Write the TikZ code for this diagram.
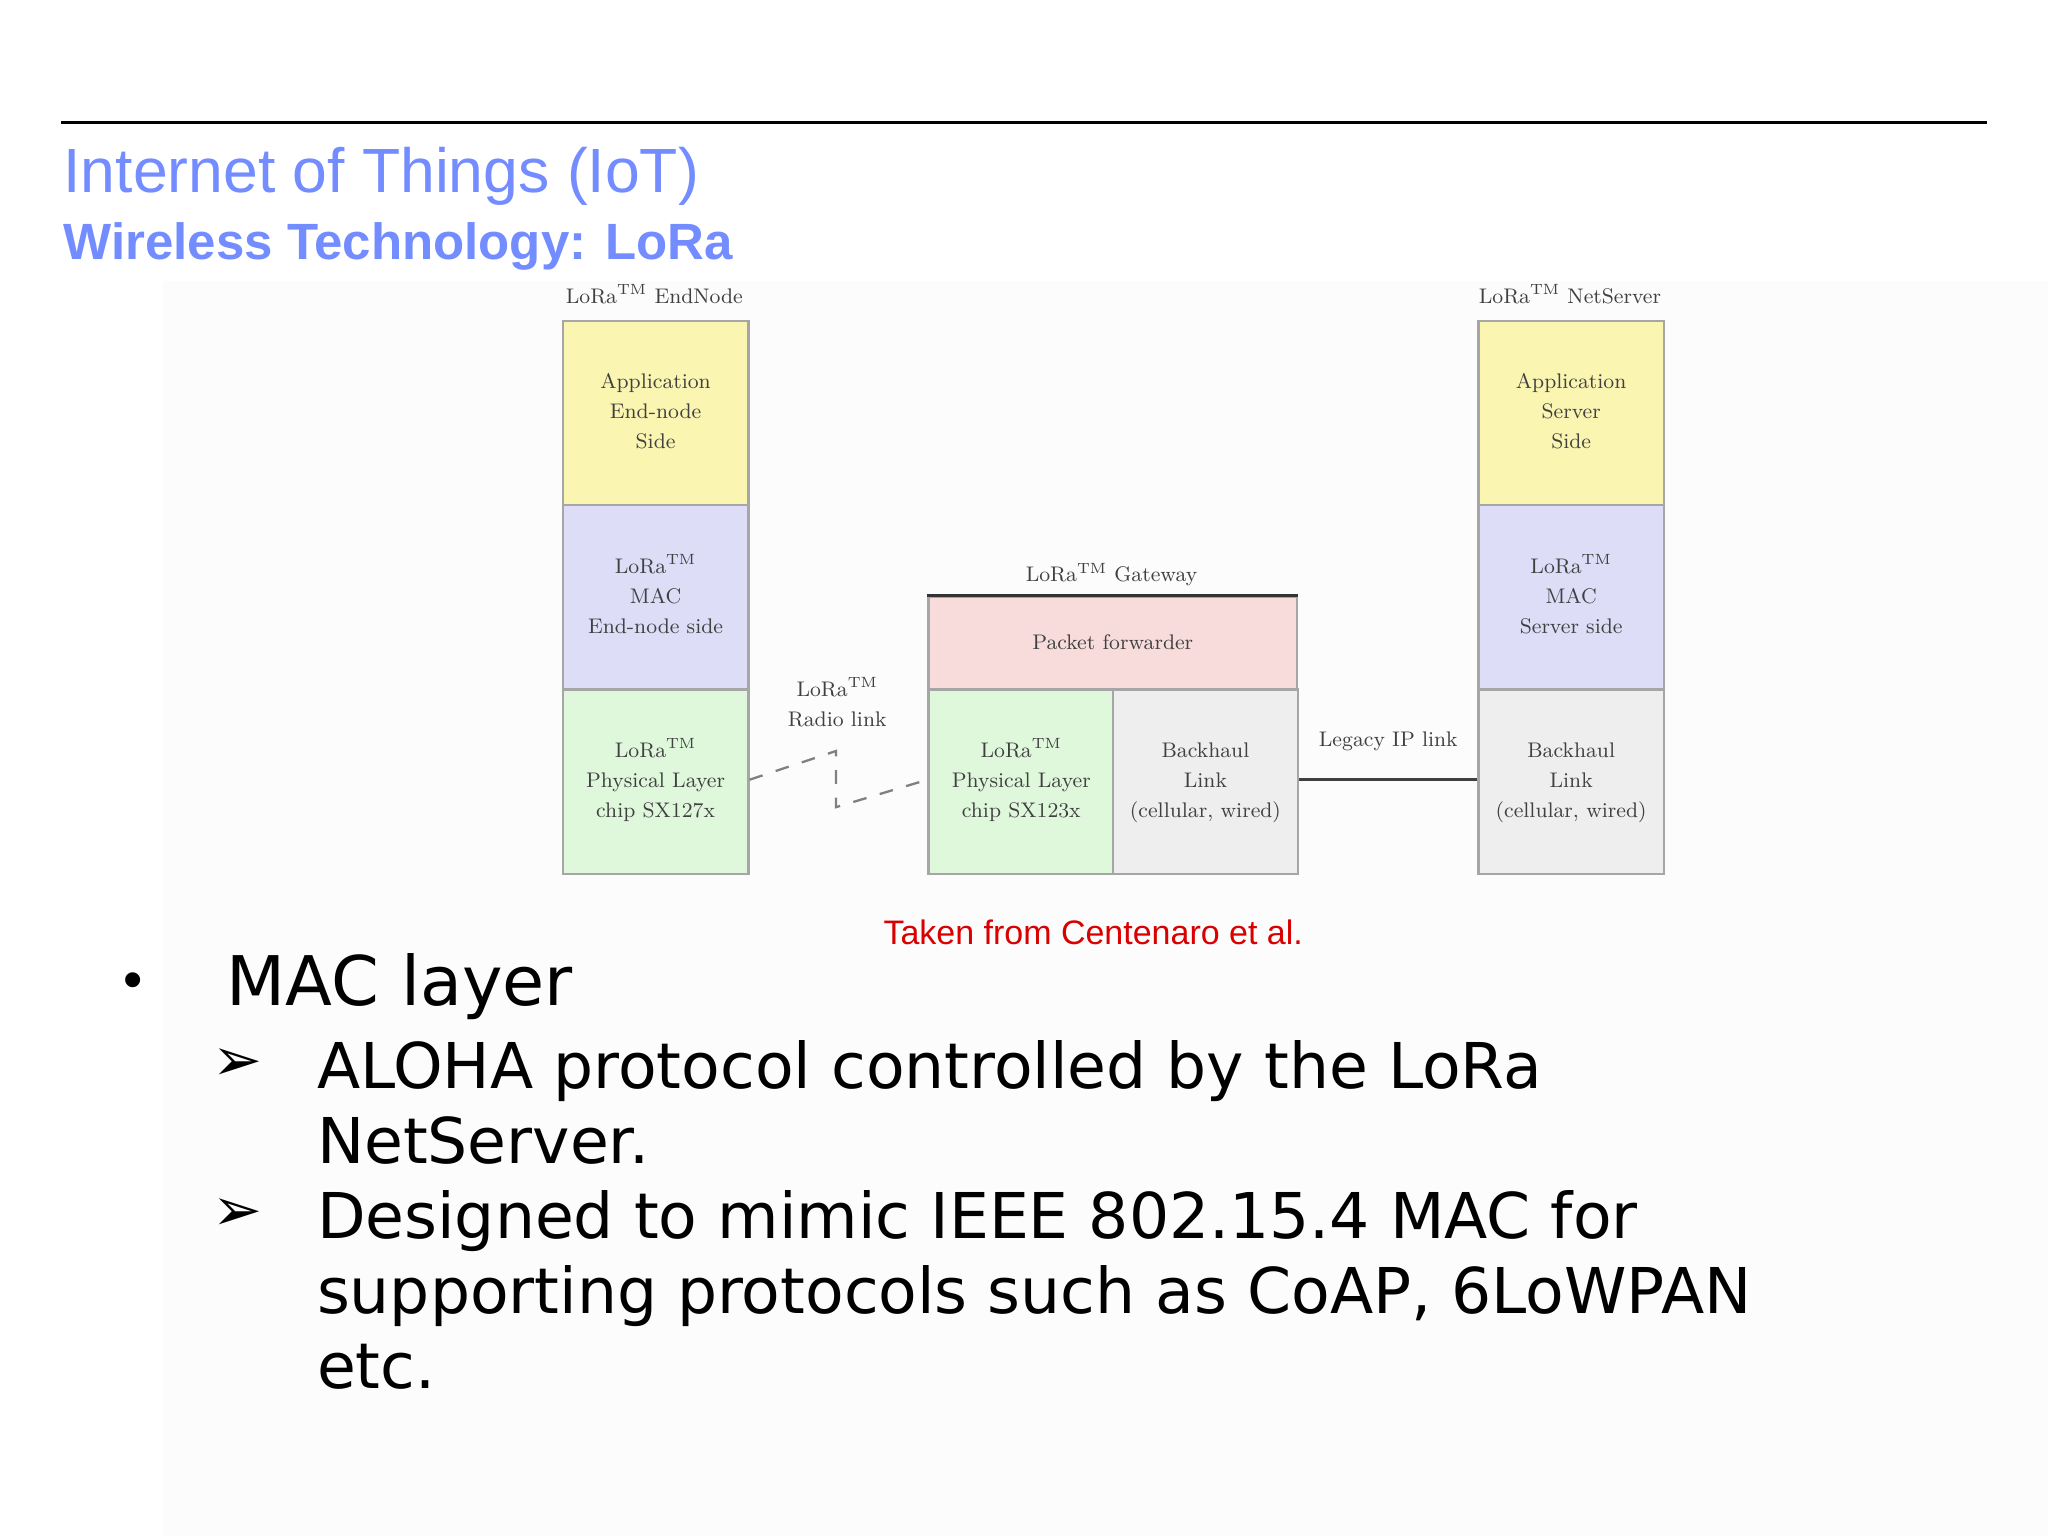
\documentclass[tikz,border=0pt]{standalone}
\usepackage{fontspec}
\newfontfamily\arial{Liberation Sans}
\newfontfamily\verd{DejaVu Sans}
\newcommand{\sm}[1]{\scalebox{0.5}{\fontsize{9.2}{13}\selectfont\begin{tabular}{@{}c@{}}#1\end{tabular}}}
\begin{document}
\begin{tikzpicture}[x=0.01cm,y=-0.01cm,
 lay/.style={draw=gray!70,line width=0.5pt,minimum width=1.42cm,minimum height=1.41cm,inner sep=0pt,anchor=north west,align=center,text=black!75},
 up/.style={text depth=0.16cm},
 lbl/.style={text=black!75,align=center,inner sep=1pt},
 bul/.style={anchor=west,inner sep=0pt,font=\verd\fontsize{13.75}{16.3}\selectfont,align=left}]
\useasboundingbox[fill=white] (0,0) rectangle (1568,1176);
\fill[black!1] (125,215) rectangle (1568,1176);
\draw[line width=0.6pt] (47,94) coordinate (l1) -- (1521,94) coordinate (l2);
\node[anchor=west,inner sep=0pt,font=\arial\fontsize{13.6}{16}\selectfont,text=blue!50!white!90!cyan] (t1) at (48,135) {Internet of Things (IoT)};
\node[anchor=west,inner sep=0pt,font=\arial\bfseries\fontsize{11.1}{12}\selectfont,text=blue!50!white!90!cyan] (t2) at (48,189) {Wireless Technology: LoRa};
\definecolor{cy}{HTML}{FBF5B2}\definecolor{cb}{HTML}{DDDDF8}\definecolor{cg}{HTML}{DFF8DC}\definecolor{cp}{HTML}{F8DCDC}\definecolor{cgr}{HTML}{EEEEEE}
% EndNode
\node[lbl] (enl) at (501,228) {\sm{LoRa\textsuperscript{TM} EndNode}};
\node[lay,fill=cy] (e1) at (430,245) {\raisebox{9pt}{\sm{Application\\End-node\\Side}}};
\node[lay,fill=cb] (e2) at (430,386) {\raisebox{6pt}{\sm{LoRa\textsuperscript{TM}\\MAC\\End-node side}}};
\node[lay,fill=cg] (e3) at (430,527) {\raisebox{3pt}{\sm{LoRa\textsuperscript{TM}\\Physical Layer\\chip SX127x}}};
% NetServer
\node[lbl] (nsl) at (1202,228) {\sm{LoRa\textsuperscript{TM} NetServer}};
\node[lay,fill=cy] (n1) at (1131,245) {\raisebox{9pt}{\sm{Application\\Server\\Side}}};
\node[lay,fill=cb] (n2) at (1131,386) {\raisebox{6pt}{\sm{LoRa\textsuperscript{TM}\\MAC\\Server side}}};
\node[lay,fill=cgr] (n3) at (1131,527) {\raisebox{3pt}{\sm{Backhaul\\Link\\(cellular, wired)}}};
% Gateway
\node[lbl] (gl) at (851,441) {\sm{LoRa\textsuperscript{TM} Gateway}};
\node[lay,fill=cp,minimum width=2.82cm,minimum height=0.71cm] (g0) at (710,456) {\sm{Packet forwarder}};
\node[lay,fill=cg] (g1) at (710,527) {\raisebox{3pt}{\sm{LoRa\textsuperscript{TM}\\Physical Layer\\chip SX123x}}};
\node[lay,fill=cgr] (g2) at (851,527) {\raisebox{3pt}{\sm{Backhaul\\Link\\(cellular, wired)}}};
\draw[line width=0.8pt,black!80] (g0.north west) -- (g0.north east);
% links
\draw[line width=0.6pt,black!75] (g2.east|-1000,597) -- node[above=4pt,lbl]{\sm{Legacy IP link}} (n3.west|-1000,597);
\coordinate (r1) at (640,575); \coordinate (r2) at (640,618);
\draw[dashed,gray,line width=0.5pt] (e3.east|-0,597) -- (r1) -- (r2) -- (g1.west|-0,597);
\node[lbl] (rl) at (641,540) {\sm{LoRa\textsuperscript{TM}\\Radio link}};
\node[text=red!85!black,font=\arial\fontsize{7.4}{8}\selectfont] (src) at (837,714) {Taken from Centenaro et al.};
% bullets
\node[font=\arial\fontsize{12}{14}\selectfont] (b0) at (102,755) {•};
\node[bul,font=\verd\fontsize{14.9}{17}\selectfont] (m) at (173,755) {MAC layer};
\node[font=\verd\fontsize{13}{13}\selectfont] (a1) at (182,815) {➢};
\node[font=\verd\fontsize{13}{13}\selectfont] (a2) at (182,930) {➢};
\node[bul,anchor=north west] (p1) at (242,796) {ALOHA protocol controlled by the LoRa\\NetServer.};
\node[bul,anchor=north west] (p2) at (242,911) {Designed to mimic IEEE 802.15.4 MAC for\\supporting protocols such as CoAP, 6LoWPAN\\etc.};
\end{tikzpicture}
\end{document}
